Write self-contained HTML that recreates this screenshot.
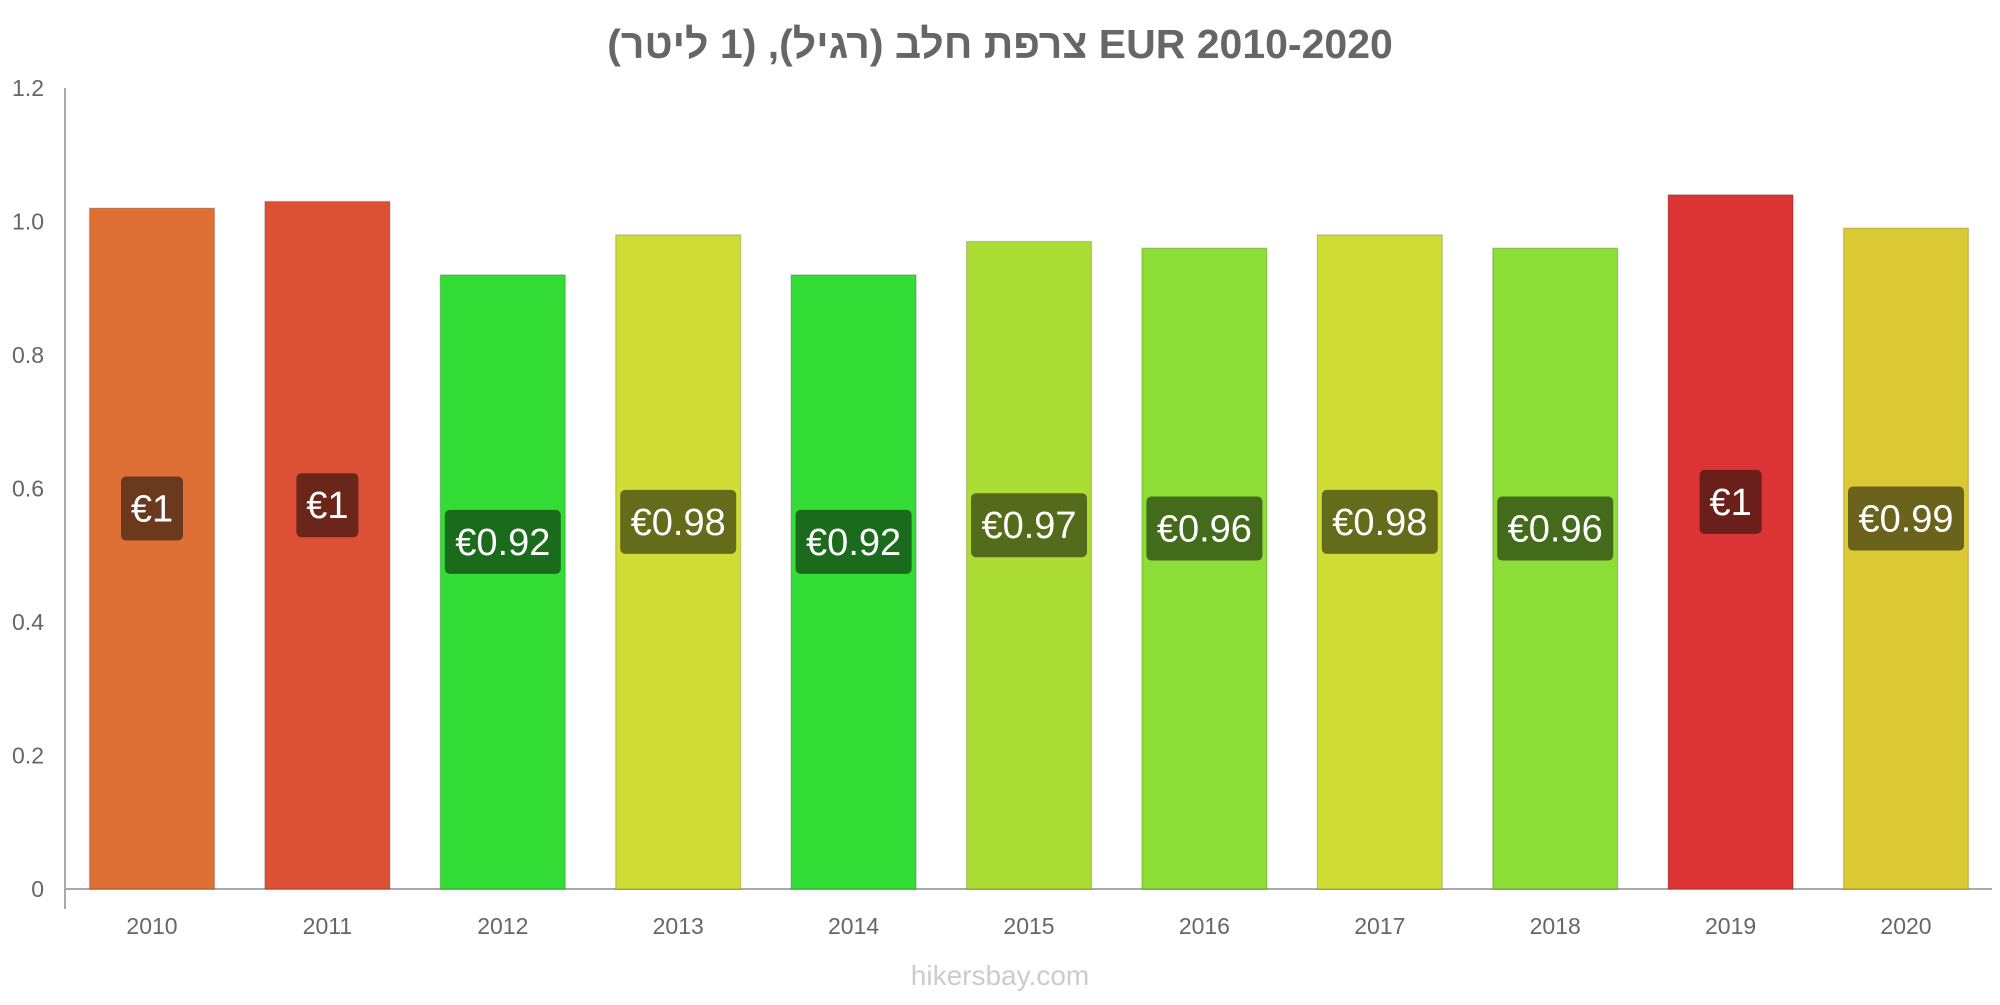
<!DOCTYPE html>
<html><head><meta charset="utf-8">
<style>
html,body{margin:0;padding:0;background:#fff;}
body{width:2000px;height:1000px;overflow:hidden;font-family:"Liberation Sans",sans-serif;}
</style></head>
<body>
<svg id="chart" width="2000" height="1000" xmlns="http://www.w3.org/2000/svg" font-family="Liberation Sans, sans-serif">
<text x="1000" y="58" text-anchor="middle" font-size="41" font-weight="bold" fill="#666">צרפת חלב (רגיל), (1 ליטר) EUR 2010-2020</text>
<text x="1000" y="985" text-anchor="middle" font-size="28" fill="#ccc">hikersbay.com</text>
<g id="axes"></g>
<g id="bars"></g>
</svg>
<script>
const categories = ["2010","2011","2012","2013","2014","2015","2016","2017","2018","2019","2020"];
const values = [1.02,1.03,0.92,0.98,0.92,0.97,0.96,0.98,0.96,1.04,0.99];
const labels = ["€1","€1","€0.92","€0.98","€0.92","€0.97","€0.96","€0.98","€0.96","€1","€0.99"];
const colors = ["#de7035","#dc5034","#33dd35","#cfdd35","#33dd35","#acdd35","#8cdd35","#cfdd35","#8cdd35","#dc3434","#dbc934"];
const labelColors = ["#6b3a1e","#6b261b","#1a6b1b","#646b1b","#1a6b1b","#546b1b","#446b1b","#646b1b","#446b1b","#6b1f1b","#6b621b"];
const yTicks = [0,0.2,0.4,0.6,0.8,1.0,1.2];
const yTickLabels = ["0","0.2","0.4","0.6","0.8","1.0","1.2"];

const NS="http://www.w3.org/2000/svg";
const x0=65, x1=1992, yZero=889, yTop=88, yMax=1.2;
const step=175.4, firstC=152, barW=125;
function yS(v){return yZero-(v/yMax)*(yZero-yTop);}
function xC(i){return firstC+i*step;}
function mk(tag,attrs,parent){const e=document.createElementNS(NS,tag);for(const k in attrs)e.setAttribute(k,attrs[k]);parent.appendChild(e);return e;}
const axes=document.getElementById('axes'), bars=document.getElementById('bars');

let yl=mk('line',{x1:x0,y1:yTop,x2:x0,y2:yZero+20,stroke:'#aaa','stroke-width':2},axes);


let xl=mk('line',{x1:x0,y1:yZero,x2:x1,y2:yZero,stroke:'#aaa','stroke-width':2},axes);



yTicks.forEach((t,i)=>{
  const tx=mk('text',{x:44,y:yS(t)+8,'text-anchor':'end','font-size':23,fill:'#666'},axes);
  tx.textContent=yTickLabels[i];
  
  
});

categories.forEach((c,i)=>{
  const cx=xC(i), v=values[i];
  const r=mk('rect',{x:cx-barW/2,y:yS(v),width:barW,height:yZero-yS(v),fill:colors[i],stroke:'rgba(0,0,0,0.15)','stroke-width':1.5},bars);
  
  
  const tl=mk('text',{x:cx,y:yZero+45,'text-anchor':'middle','font-size':23,fill:'#666'},axes);
  tl.textContent=c;
  
  
  const ly=yS(v/2+0.06);
  const w=labels[i].length>2?116:62;
  const bg=mk('rect',{x:cx-w/2,y:ly-32,width:w,height:64,rx:5,fill:labelColors[i]},bars);
  
  
  const lt=mk('text',{x:cx,y:ly+13,'text-anchor':'middle','font-size':38,fill:'#fff'},bars);
  lt.textContent=labels[i];
  
  
});
</script>
</body></html>
